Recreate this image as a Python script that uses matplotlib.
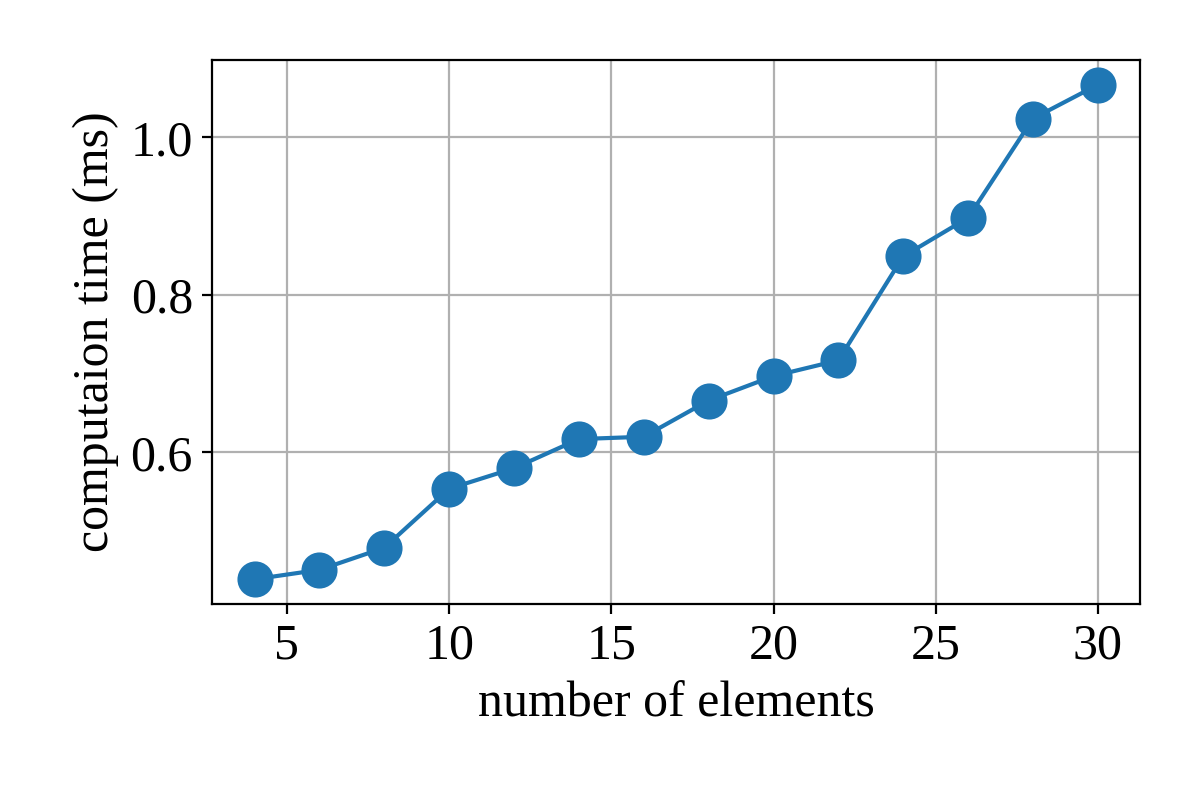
import matplotlib
matplotlib.use("Agg")
import matplotlib.pyplot as plt

n_elements = [4, 6, 8, 10, 12, 14, 16, 18, 20, 22, 24, 26, 28, 30]
time_ms = [0.439, 0.451, 0.479, 0.554, 0.580, 0.617, 0.620, 0.666,
           0.697, 0.717, 0.849, 0.898, 1.024, 1.067]

plt.rcParams["font.family"] = ["Liberation Serif", "DejaVu Serif"]
plt.rcParams["font.size"] = 18

fig = plt.figure(figsize=(6, 4), dpi=200)
ax = fig.add_axes([0.177, 0.245, 0.773, 0.68])
ax.plot(n_elements, time_ms, "o-", color="tab:blue", markersize=12)
ax.grid(True)
ax.set_xlabel("number of elements")
ax.set_ylabel("computaion time (ms)")
ax.set_yticks([0.6, 0.8, 1.0])
fig.savefig("out.png", dpi=200)
